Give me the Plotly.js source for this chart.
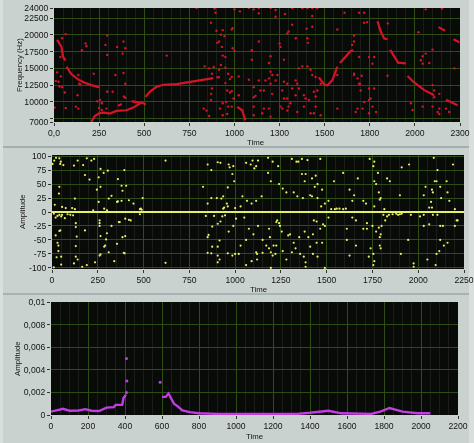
<!DOCTYPE html>
<html><head><meta charset="utf-8">
<script src="https://cdn.plot.ly/plotly-3.0.1.min.js"></script>
<style>html,body{margin:0;padding:0;background:#c9d2cf;overflow:hidden}#c{width:474px;height:443px;filter:blur(0.45px)}</style>
</head><body><div id="c"></div>
<script>
// --- Top panel: frequency tracks (null = gap) ---
const trackX=[17,30,41,50,63,null,69,96,133,170,207,254,null,290,300,null,383,400,null,430,476,null,
207,226,254,281,309,346,402,439,485,509,null,507,531,568,606,680,754,828,883,null,900,920,null,
1015,1043,1060,null,1468,1496,1515,1543,1570,null,1585,1607,1644,1660,null,1793,1811,1830,1848,null,1863,1885,1907,1950,null,
1959,1996,2052,2107,null,2172,2237,null,2131,2168,null,2214,2246];
const trackY=[19250,18700,18250,16750,16150,null,15250,14150,13350,12850,12500,12150,null,11650,11400,null,10900,10500,null,10100,9900,null,
7000,7900,8350,8400,8250,8650,8750,9150,9900,9600,null,10750,11500,12250,12550,12650,13000,13350,13550,null,13650,13700,null,
9250,8750,7250,null,13650,12650,12450,13250,15250,null,15800,16500,17600,17700,null,22000,20500,19450,19350,null,17750,16750,15850,15750,null,
13850,12900,11750,11000,null,10300,9500,null,21150,20600,null,19350,18900];
const freqDots=[[4,9150],[17,14400],[10,13100],[25,13000],[30,12300],[35,16700],[38,13800],[45,12200],[65,9100],[45,19500],[65,20100],[60,11400],
[122,9300],[135,9000],[140,12700],[135,14000],[145,12600],[130,11000],[175,18700],[180,18300],[155,17700],[220,14200],[240,10100],[255,10300],[250,9100],[265,9800],[265,8800],
[285,18500],[290,9000],[295,19900],[295,17000],[325,11500],[350,18200],[385,19000],[380,17200],[395,18000],[340,14000],[385,14300],[395,12700],[370,9600],[360,9500],[445,10000],[625,16900],[790,24000],
[830,9000],[845,8700],[860,7900],[835,15300],[860,15000],[885,15200],[875,12000],[870,11200],[870,10300],[875,14200],[870,21800],[890,23900],[895,23300],[900,20600],[905,18800],[915,19000],
[925,20000],[935,20700],[945,19800],[930,18200],[935,16900],[950,16700],[925,15500],[950,15100],[915,14800],[950,12800],[960,11700],[975,11400],[985,11600],[955,10000],[935,9800],[920,9000],
[935,8000],[960,8200],[965,9300],[985,9300],[995,10500],[985,13700],[975,13400],[965,14200],[990,18000],[1000,17600],[985,20800],[990,21000],[1000,23800],
[1080,24000],[1135,24000],[1200,24000],[1228,23700],[1320,24000],[1376,24000],[1431,24000],[1459,24000],[1404,24000],[1107,23800],[1030,23500],
[1135,23200],[1228,22700],[1280,23100],[1320,21500],[1400,20900],[1431,21200],[1431,22800],[1570,20800],[1663,19900],[1610,23300],[1691,23300],[1719,23300],[1719,21800],[1735,21900],[1850,21700],[2020,20400],[2060,23800],[2150,23900],
[1135,19000],[1096,17700],[1255,18200],[1200,16800],[1274,16300],[1191,15800],[1096,16300],[1250,18700],[1340,19500],[1404,19500],[1408,18800],[1293,20200],[1300,20500],
[1663,19000],[1652,18500],[1691,16700],[1746,16700],[1774,16700],[1765,15700],[2043,16800],[2060,17200],[2098,17800],[2043,15700],[2080,15800],[2033,16200],[2219,15000],
[1200,14500],[1191,13500],[1172,13200],[1210,14000],[1238,14000],[1135,13200],[1107,12200],[1144,11700],[1163,11700],[1200,12700],[1228,13200],[1274,13000],[1293,12700],[1339,13200],[1357,15000],[1376,15300],[1404,15300],[1422,14800],[1431,14000],[1348,12700],[1357,12000],[1320,12000],[1265,11700],[1209,11200],[1117,10900],[1107,10700],
[1080,13300],[1024,13800],[1024,11000],[1339,11000],[1385,11000],[1394,10500],[1293,10500],[1274,10500],[1413,10300],[1459,11700],[1450,10800],[1450,13700],[1478,12700],[1440,11500],
[1570,14000],[1663,14000],[1682,13500],[1691,12700],[1700,11700],[1696,12700],[1705,13900],[1663,14200],[1746,12000],[1755,10500],[1746,10300],[1774,12000],[1848,13900],[1719,10000],[1710,9000],[1672,8500],[1746,8300],[1765,9300],[1682,9000],[1785,8500],
[1107,9300],[1163,9000],[1191,9000],[1255,9300],[1265,9000],[1300,9300],[1310,9800],[1348,8500],[1385,9300],[1422,8300],[1450,9300],[1478,8000],[1570,9000],[1107,8000],[1154,8300],[1200,7800],[1293,8700],[1440,8300],
[2098,12500],[2107,11700],[2135,11200],[2107,10700],[2135,9000],[2126,8500],[2043,9300],[2098,9300],[2172,9000],[1987,8800],[1978,9800],[2190,8500],[2135,8200]];

// --- Middle panel: amplitude dots ---
const centreX=[0,250,500,750,1000,1250,1500,1750,2000,2250];
const centreY=[0,0,0,0,0,0,0,0,0,0];
const ampDots=[[3,86],[12,92],[22,97],[40,96],[48,90],[45,86],[62,84],[120,83],[140,92],[170,84],[190,96],[215,92],[230,95],[205,58],[180,66],
[40,45],[38,33],[125,24],[255,62],[265,77],[282,70],[305,74],[395,75],[360,59],[380,47],[405,47],[385,38],[265,45],[245,40],[310,24],[325,29],[380,20],[360,19],[355,18],[420,21],[445,15],[620,92],[495,25],
[15,13],[55,9],[75,7],[110,7],[125,5],[255,18],[285,6],[300,3],[480,5],[485,6],[490,4],[300,2],[225,3],
[10,-3],[20,-10],[30,-7],[40,-5],[50,-8],[55,-5],[70,-11],[85,-4],[100,-5],[115,-6],[130,-20],[130,-27],[260,-15],[260,-20],[260,-25],[400,-12],[430,-15],[420,-14],[480,-4],
[20,-42],[30,-55],[35,-60],[35,-70],[25,-81],[40,-34],[45,-33],[50,-80],[50,-94],[135,-44],[130,-61],[130,-80],[140,-85],[120,-92],[165,-98],[180,-33],[190,-95],[235,-90],
[265,-43],[300,-38],[295,-49],[290,-60],[285,-62],[265,-76],[260,-78],[310,-72],[325,-25],[365,-18],[370,-18],[340,-88],[355,-57],[385,-45],[400,-43],[392,-73],[397,-74],[620,-91],[10,-99],
[825,45],[850,85],[870,75],[905,89],[920,88],[870,25],[900,25],[925,24],[935,28],[850,15],[955,15],[965,85],[985,68],[970,80],[995,55],[960,44],[990,82],
[840,-7],[855,-41],[850,-45],[875,-26],[905,-21],[920,-17],[930,-8],[945,-6],[990,-25],[965,-35],[915,-51],[875,-62],[905,-62],[850,-73],[870,-74],[905,-78],[915,-85],[905,-90],[960,-74],[985,-78],[1000,-75],[885,-7],[940,8],[935,6],[960,10],[1000,7],[1005,-12],
[1030,10],[1040,28],[1065,20],[1090,15],[1115,20],[1145,28],[1050,-10],[1030,-60],[1020,-75],[1060,-50],[1075,-30],[1100,-40],[1125,-25],[1150,-50],[1185,-30],[1190,-45],[1210,-60],[1240,-20],[1245,-25],[1230,-15],[1225,-18],
[1085,85],[1095,92],[1115,82],[1125,92],[1180,97],[1235,82],[1180,70],[1195,55],[1240,50],[1260,42],[1280,35],[1205,90],[1105,78],[1060,88],
[1115,-72],[1120,-75],[1170,-60],[1185,-65],[1150,-73],[1205,-78],[1195,-72],[1220,-75],[1225,-60],[1060,-95],[1090,-88],[1195,-100],[1120,-85],[1255,-35],[1260,-70],[1280,-85],[1310,-72],
[1310,95],[1335,90],[1345,90],[1365,95],[1395,93],[1365,68],[1385,68],[1380,55],[1420,60],[1440,65],[1450,50],[1435,45],[1465,95],[1475,40],[1320,35],[1340,28],[1370,25],[1410,30],[1420,28],[1450,25],[1470,10],[1490,15],
[1300,-40],[1290,-42],[1320,-55],[1350,-45],[1380,-35],[1400,-45],[1425,-40],[1430,-15],[1445,-17],[1465,-30],[1480,-22],[1490,-25],[1510,-10],[1330,-65],[1355,-75],[1375,-80],[1385,-90],[1385,-98],[1410,-62],[1425,-75],[1475,-55],[1490,-100],[1445,-55],[1450,-80],
[1510,20],[1525,5],[1545,5],[1555,6],[1570,6],[1590,5],[1605,6],[1625,40],[1650,30],[1640,20],[1540,55],[1590,70],[1610,-30],[1640,-10],[1660,-15],[1670,60],[1700,20],[1715,15],[1735,95],[1760,90],[1755,82],[1780,70],[1760,55],[1770,50],[1785,35],[1790,22],[1795,25],[1760,10],[1815,5],
[1610,-50],[1625,-78],[1660,-60],[1700,-30],[1720,-30],[1740,-65],[1755,-75],[1730,-80],[1720,-20],[1750,-25],[1785,-28],[1770,-35],[1800,-25],[1795,-40],[1810,-5],[1820,-15],[1830,-8],[1840,-5],[1860,-4],[1880,-3],[1890,-5],[1900,-4],[1790,-45],[1760,-88],[1755,-95],[1790,-60],[1795,-65],
[1830,60],[1845,55],[1900,30],[1910,80],[1950,85],[2040,45],[2075,40],[2090,55],[2100,55],[2120,45],[2080,35],[2125,25],[2160,35],[2170,20],[2030,30],[2070,18],[2075,8],[2060,8],[2155,55],[2190,85],[2105,75],[2085,97],
[1910,-3],[1960,-5],[2010,-8],[2030,-5],[2030,-25],[2060,-22],[2080,-5],[2105,-5],[2120,-25],[2135,-25],[2120,-50],[2140,-60],[2160,-55],[2115,-70],[2100,-75],[1905,-75],[1945,-50],[1975,-92],[1975,-98],[2050,-85],[2095,-95],[2200,-25],[2210,-15],[2215,-15],[2200,5]];

// --- Bottom panel: amplitude envelope ---
const envX=[0,30,65,100,150,185,220,260,300,340,350,385,392,405,null,600,620,635,650,665,690,710,750,800,900,1000,1200,1330,1400,1500,1570,1730,1780,1830,1900,1980,2050];
const envY=[0.0003,0.0004,0.00055,0.00038,0.0004,0.00052,0.00038,0.00035,0.00065,0.0007,0.0009,0.0009,0.0015,0.0018,null,0.0016,0.0016,0.0019,0.0015,0.001,0.0007,0.0004,0.00025,0.00015,0.0001,0.0001,0.0001,0.0001,0.0002,0.00038,0.00015,0.0001,0.0003,0.00062,0.0003,0.00015,0.00015];
const envDotX=[408,410,408,590];
const envDotY=[0.002,0.003,0.005,0.0029];

// --- Axis labels ---
const x1Vals=[0,250,500,750,1000,1250,1500,1750,2000,2250];
const x1Text=['0,0','250','500','750','1000','1300','1500','1800','2000','2300'];
const y1Vals=[7000,7500,10000,12500,15000,17500,20000,22500,24000];
const y1Text=['7000','','10000','12500','15000','17500','20000','22500','24000'];
const x2Vals=x1Vals;
const y2Vals=[-100,-75,-50,-25,0,25,50,75,100];
const x3Vals=[0,200,400,600,800,1000,1200,1400,1600,1800,2000,2200];
const y3Vals=[0,0.002,0.004,0.006,0.008,0.01];
const y3Text=['0','0,002','0,004','0,006','0,008','0,01'];

const W=474,H=443;
const dx=(a,b)=>[a/W,b/W], dy=(t,b)=>[1-b/H,1-t/H];
const tf={family:'Liberation Sans',size:8.6,color:'#141414'};
const lf={family:'Liberation Sans',size:7.8,color:'#141414'};
const GRID='#304c16', MINOR='#1a1e1a';
function xax(anchor,dom,range,vals,text,minor){return {anchor,domain:dom,range,tickmode:'array',tickvals:vals,ticktext:text,ticks:'outside',ticklen:3,tickcolor:'#333',tickfont:tf,showgrid:true,gridcolor:GRID,gridwidth:1,zeroline:false,showline:false,
  minor:{dtick:minor,showgrid:true,gridcolor:MINOR,gridwidth:1,ticks:''}};}
function yax(anchor,dom,range,vals,text){return {anchor,domain:dom,range,tickmode:'array',tickvals:vals,ticktext:text,ticks:'outside',ticklen:3,tickcolor:'#333',tickfont:tf,showgrid:true,gridcolor:GRID,gridwidth:1,zeroline:false,showline:false};}
const note=(text,px,py,rot)=>({text,xref:'paper',yref:'paper',x:px/W,y:1-py/H,xanchor:'center',yanchor:'middle',showarrow:false,textangle:rot,font:lf});

const RED='#d41426',YEL='#e6f064',MAG='#c43ce6';
const data=[
 {x:freqDots.map(p=>p[0]),y:freqDots.map(p=>p[1]),xaxis:'x',yaxis:'y',mode:'markers',marker:{color:RED,size:2.4},hoverinfo:'skip'},
 {x:trackX,y:trackY,xaxis:'x',yaxis:'y',mode:'lines',line:{color:RED,width:2.2},hoverinfo:'skip'},
 {x:centreX,y:centreY,xaxis:'x2',yaxis:'y2',mode:'lines',line:{color:YEL,width:2.2},hoverinfo:'skip'},
 {x:ampDots.map(p=>p[0]),y:ampDots.map(p=>p[1]),xaxis:'x2',yaxis:'y2',mode:'markers',marker:{color:YEL,size:2.2},hoverinfo:'skip'},
 {x:envX,y:envY,xaxis:'x3',yaxis:'y3',mode:'lines',line:{color:MAG,width:2.4},cliponaxis:false,hoverinfo:'skip'},
 {x:envDotX,y:envDotY,xaxis:'x3',yaxis:'y3',mode:'markers',marker:{color:MAG,size:3},hoverinfo:'skip'}
];
const layout={width:W,height:H,margin:{l:0,r:0,t:0,b:0},paper_bgcolor:'#c9d2cf',plot_bgcolor:'#090b09',showlegend:false,
 xaxis:xax('y',dx(54,460),[0,2250],x1Vals,x1Text,50),
 yaxis:yax('x',dy(8,122),[7000,24000],y1Vals,y1Text),
 xaxis2:xax('y2',dx(52,464),[0,2250],x2Vals,x2Vals.map(String),50),
 yaxis2:yax('x2',dy(155,269),[-102,102],y2Vals,y2Vals.map(String)),
 xaxis3:xax('y3',dx(51,458),[0,2200],x3Vals,x3Vals.map(String),50),
 yaxis3:yax('x3',dy(302,415),[0,0.01],y3Vals,y3Text),
 annotations:[
  note('Frequency (Hz)',19,65,-90),note('Time',256,142,0),
  note('Amplitude',22,212,-90),note('Time',258,289,0),
  note('Amplitude',17,359,-90),note('Time',254,436,0)
 ],
 shapes:[
  {type:'rect',xref:'paper',yref:'paper',x0:0,x1:1,y0:1-148/H,y1:1-146/H,fillcolor:'#a4aeac',line:{width:0},layer:'below'},
  {type:'rect',xref:'paper',yref:'paper',x0:0,x1:1,y0:1-295/H,y1:1-293/H,fillcolor:'#a8b2b0',line:{width:0},layer:'below'},
  {type:'rect',xref:'paper',yref:'paper',x0:0,x1:3/W,y0:0,y1:1,fillcolor:'#d8dfdc',line:{width:0},layer:'below'},
  {type:'rect',xref:'paper',yref:'paper',x0:469/W,x1:1,y0:0,y1:1,fillcolor:'#d8dfdc',line:{width:0},layer:'below'}
 ]};
Plotly.newPlot('c',data,layout,{displayModeBar:false,staticPlot:true});
</script></body></html>
